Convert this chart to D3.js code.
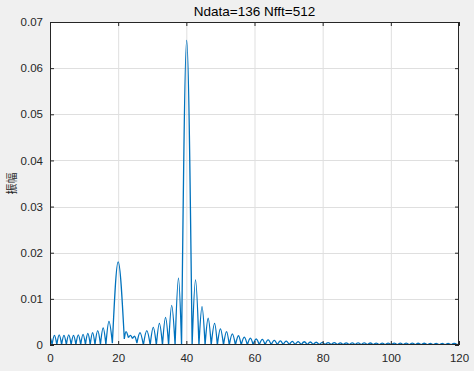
<!DOCTYPE html>
<html>
<head>
<meta charset="utf-8">
<script src="https://cdn.jsdelivr.net/npm/d3@7"></script>
<style>
  html, body { margin: 0; padding: 0; background: #f0f0f0; }
  svg { display: block; }
  .tick text { font-family: "Liberation Sans", Arial, sans-serif; font-size: 11.5px; fill: #262626; }
</style>
</head>
<body>
<div id="chart"></div>
<script>
const W = 474, H = 371;
const margin = {top: 22, right: 15, bottom: 26, left: 50};

const title = 'Ndata=136 Nfft=512';
const yLabel = '振幅';
const xTicks = [0, 20, 40, 60, 80, 100, 120];
const yTicks = [0, 0.01, 0.02, 0.03, 0.04, 0.05, 0.06, 0.07];

// spectrum lobes: zero/valley points and lobe peaks (Hz, amplitude)
const troughFreq = [-0.9, 0.6, 2.0, 3.4, 4.8, 6.2, 7.6, 9.0, 10.4, 11.8, 13.2, 14.8, 16.4, 18.3,
  21.8, 23.0, 24.2, 25.5, 27.4, 29.4, 31.2, 33.0, 34.8, 36.7, 38.6,
  41.7, 43.7, 45.5, 47.3, 49.1, 50.9, 52.6, 54.4, 56.1, 57.9, 59.6, 61.4, 63.1, 64.9, 66.7, 68.4,
  70.2, 71.9, 73.7, 75.5, 77.2, 79.0, 80.7, 82.5, 84.3, 86.0, 87.8, 89.5, 91.3, 93.1, 94.8, 96.6,
  98.3, 100.1, 101.9, 103.6, 105.4, 107.2, 108.9, 110.7, 112.4, 114.2, 115.9, 117.7, 119.5, 121.2];
const troughAmp = [0, 0.0001, 0.0001, 0.0001, 0.0001, 0.0001, 0.0001, 0.0001, 0.0001, 0.0001, 0.0001, 0.0001, 0.0001, 0.0004,
  0.0013, 0.0016, 0.0014, 0.0004, 0, 0, 0, 0, 0, 0, 0,
  0, 0, 0, 0, 0, 0, 0, 0, 0, 0, 0.00005, 0.00005, 0.00005, 0.00005, 0.00005, 0.00005,
  0.00005, 0.00005, 0.00005, 0.00005, 0.00005, 0.00005, 0.00005, 0.00005, 0.00005, 0.00005, 0.00005, 0.00005, 0.00005, 0.00005, 0.00005, 0.00005,
  0.00005, 0.00005, 0.00005, 0.00005, 0.00005, 0.00005, 0.00005, 0.00005, 0.00005, 0.00005, 0.00005, 0.00005, 0.00005, 0.00005];
const peakFreq = [-0.1, 1.3, 2.7, 4.1, 5.5, 6.9, 8.3, 9.7, 11.1, 12.5, 14.0, 15.6, 17.3,
  20.0, 22.3, 23.6, 24.8, 26.4, 28.4, 30.3, 32.1, 33.9, 35.7, 37.7,
  40.1, 42.7, 44.6, 46.4, 48.3, 50.0, 51.8, 53.5, 55.3, 57.0, 58.8, 60.5, 62.3, 64.0, 65.8, 67.6,
  69.3, 71.1, 72.8, 74.6, 76.4, 78.1, 79.9, 81.6, 83.4, 85.2, 86.9, 88.7, 90.4, 92.2, 94.0, 95.7,
  97.5, 99.2, 101.0, 102.8, 104.5, 106.3, 108.0, 109.8, 111.6, 113.3, 115.1, 116.8, 118.6, 120.4];
const peakAmp = [0.0019, 0.0021, 0.0022, 0.0021, 0.0022, 0.0021, 0.0022, 0.0023, 0.0025, 0.0027, 0.0031, 0.0037, 0.0051,
  0.018, 0.0029, 0.0021, 0.0019, 0.0027, 0.0031, 0.0038, 0.0047, 0.006, 0.0086, 0.0145,
  0.066, 0.0141, 0.0083, 0.0058, 0.0047, 0.0035, 0.0029, 0.0024, 0.002, 0.0017, 0.0015, 0.0013, 0.0012, 0.0011, 0.001, 0.0009,
  0.00085, 0.0008, 0.00075, 0.0007, 0.00065, 0.0006, 0.00055, 0.0005, 0.0005, 0.00048, 0.00047, 0.00046, 0.00045, 0.00044, 0.00043, 0.00042,
  0.00042, 0.00041, 0.0004, 0.0004, 0.00039, 0.00039, 0.00038, 0.00038, 0.00037, 0.00037, 0.00036, 0.00036, 0.00035, 0.00035];

const svg = d3.select('#chart').append('svg')
  .attr('width', W)
  .attr('height', H);

const iw = W - margin.left - margin.right;
const ih = H - margin.top - margin.bottom;

const x = d3.scaleLinear().domain([0, 120]).range([0, iw]);
const y = d3.scaleLinear().domain([0, 0.07]).range([ih, 0]);

const g = svg.append('g')
  .attr('transform', 'translate(' + margin.left + ',' + margin.top + ')');

g.append('rect')
  .attr('width', iw)
  .attr('height', ih)
  .attr('fill', '#ffffff');

// grid
g.append('g')
  .attr('class', 'grid')
  .selectAll('line.gx')
  .data(xTicks.slice(1, -1))
  .join('line')
  .attr('x1', d => x(d) + 0.5).attr('x2', d => x(d) + 0.5)
  .attr('y1', 0).attr('y2', ih)
  .attr('stroke', '#dfdfdf');

g.append('g')
  .attr('class', 'grid')
  .selectAll('line.gy')
  .data(yTicks.slice(1, -1))
  .join('line')
  .attr('x1', 0).attr('x2', iw)
  .attr('y1', d => Math.round(y(d)) + 0.5).attr('y2', d => Math.round(y(d)) + 0.5)
  .attr('stroke', '#dfdfdf');

// curve: each lobe is valley -> peak -> valley
g.append('clipPath').attr('id', 'clip')
  .append('rect').attr('width', iw).attr('height', ih);

const lobe = d3.line()
  .x(d => x(d[0]))
  .y(d => y(d[1]))
  .curve(d3.curveMonotoneX);

let pathD = '';
peakFreq.forEach(function(f, i){
  const pts = [[troughFreq[i], troughAmp[i]], [f, peakAmp[i]], [troughFreq[i + 1], troughAmp[i + 1]]];
  pathD += lobe(pts);
});

g.append('path')
  .attr('clip-path', 'url(#clip)')
  .attr('d', pathD)
  .attr('fill', 'none')
  .attr('stroke', '#0072bd')
  .attr('stroke-width', 1.3)
  .attr('stroke-linejoin', 'round');

// axes
const xAxis = d3.axisBottom(x).tickValues(xTicks).tickSize(-4).tickPadding(9);
const yAxis = d3.axisLeft(y).tickValues(yTicks).tickSize(-4).tickPadding(7)
  .tickFormat(d => d === 0 ? '0' : d3.format('.2f')(d));

g.append('g')
  .attr('transform', 'translate(0,' + ih + ')')
  .call(xAxis)
  .call(s => s.select('.domain').remove())
  .call(s => s.selectAll('.tick line').attr('stroke', '#262626'));

g.append('g')
  .call(yAxis)
  .call(s => s.select('.domain').remove())
  .call(s => s.selectAll('.tick line').attr('stroke', '#262626'));

// ticks on top and right
g.append('g')
  .call(d3.axisTop(x).tickValues(xTicks).tickSize(-4).tickFormat(''))
  .call(s => s.select('.domain').remove())
  .call(s => s.selectAll('.tick line').attr('stroke', '#262626'));

g.append('g')
  .attr('transform', 'translate(' + iw + ',0)')
  .call(d3.axisRight(y).tickValues(yTicks).tickSize(-4).tickFormat(''))
  .call(s => s.select('.domain').remove())
  .call(s => s.selectAll('.tick line').attr('stroke', '#262626'));

g.append('rect')
  .attr('x', 0.5).attr('y', 0.5)
  .attr('width', iw - 1).attr('height', ih - 1)
  .attr('fill', 'none')
  .attr('stroke', '#262626');

svg.append('text')
  .attr('x', margin.left + iw / 2)
  .attr('y', 16)
  .attr('text-anchor', 'middle')
  .style('font-family', '"Liberation Sans", Arial, sans-serif')
  .style('font-size', '13.5px')
  .style('fill', '#000')
  .text(title);

svg.append('text')
  .attr('transform', 'translate(16,' + (margin.top + ih / 2) + ') rotate(-90)')
  .attr('text-anchor', 'middle')
  .style('font-family', '"Noto Sans CJK SC", sans-serif')
  .style('font-size', '11px')
  .style('fill', '#262626')
  .text(yLabel);
</script>
</body>
</html>
